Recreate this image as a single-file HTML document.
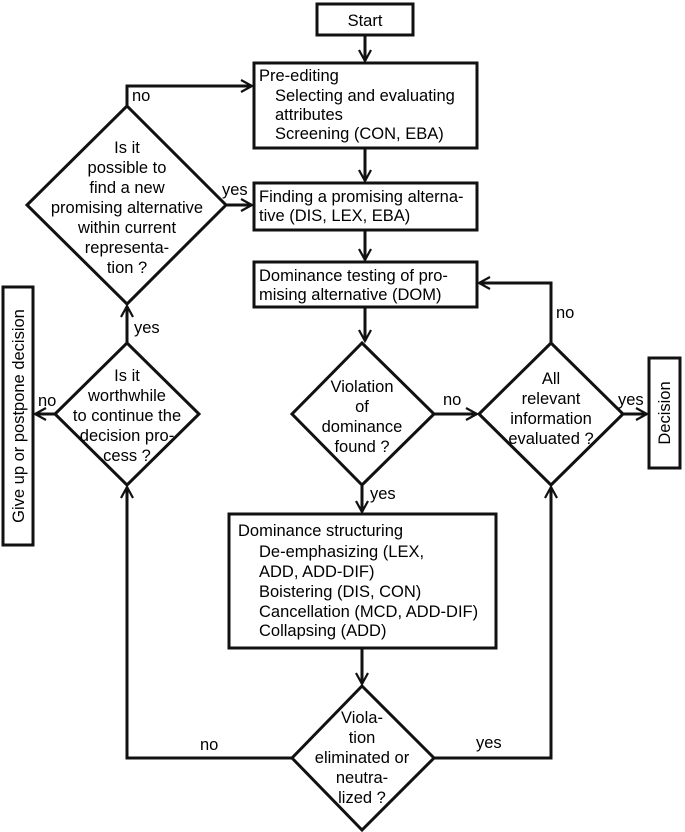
<!DOCTYPE html>
<html><head><meta charset="utf-8"><style>
body{margin:0;background:#fff}
svg{display:block}
text{font-family:"Liberation Sans",Arial,sans-serif;font-size:16.5px;fill:#000}
.c{text-anchor:middle}
</style></head><body>
<svg width="685" height="832" viewBox="0 0 685 832" xmlns="http://www.w3.org/2000/svg">
<defs>
<marker id="a" markerWidth="14" markerHeight="14" refX="12" refY="7" orient="auto" markerUnits="userSpaceOnUse">
<path d="M1,1 L12,7 L1,13" fill="none" stroke="#111" stroke-width="2.2"/>
</marker>
</defs>
<g fill="none" stroke="#111" stroke-width="3">
<rect x="317" y="4" width="96" height="31"/>
<rect x="254" y="63" width="223" height="85"/>
<rect x="254" y="183" width="223" height="47"/>
<rect x="254" y="262" width="223" height="45"/>
<rect x="229" y="514" width="267" height="134"/>
<rect x="3" y="287" width="30" height="258"/>
<rect x="649" y="358" width="31" height="110"/>
<polygon points="127,106 226,205 127,304 27,205"/>
<polygon points="127,343 199,414 127,485 55,414"/>
<polygon points="362,343 434,414 362,485 292,414"/>
<polygon points="551,343 623,414 551,485 479,414"/>
<polygon points="362,686 434,758 362,830 292,758"/>
</g>
<g fill="none" stroke="#111" stroke-width="3" marker-end="url(#a)">
<line x1="365" y1="36" x2="365" y2="61"/>
<line x1="365" y1="149" x2="365" y2="181"/>
<line x1="365" y1="231" x2="365" y2="260"/>
<line x1="365" y1="308" x2="365" y2="341"/>
<line x1="362" y1="486" x2="362" y2="512"/>
<line x1="362" y1="649" x2="362" y2="684"/>
<polyline points="127,106 127,86 252,86"/>
<line x1="226" y1="205" x2="252" y2="205"/>
<line x1="434" y1="414" x2="477" y2="414"/>
<line x1="623" y1="414" x2="647" y2="414"/>
<line x1="55" y1="414" x2="35" y2="414"/>
<line x1="127" y1="343" x2="127" y2="306"/>
<polyline points="551,343 551,283 479,283"/>
<polyline points="292,758 127,758 127,487"/>
<polyline points="434,758 551,758 551,487"/>
</g>
<text class="c" x="365" y="26">Start</text>
<text x="259" y="81">Pre-editing</text>
<text x="275" y="101">Selecting and evaluating</text>
<text x="275" y="120">attributes</text>
<text x="275" y="139">Screening (CON, EBA)</text>
<text x="259" y="202">Finding a promising alterna-</text>
<text x="259" y="221">tive (DIS, LEX, EBA)</text>
<text x="259" y="281">Dominance testing of pro-</text>
<text x="259" y="300">mising alternative (DOM)</text>
<text x="238" y="536">Dominance structuring</text>
<text x="259" y="557">De-emphasizing (LEX,</text>
<text x="259" y="577">ADD, ADD-DIF)</text>
<text x="259" y="597">Boistering (DIS, CON)</text>
<text x="259" y="617">Cancellation (MCD, ADD-DIF)</text>
<text x="259" y="636">Collapsing (ADD)</text>
<text class="c" x="127" y="153">Is it</text>
<text class="c" x="127" y="173">possible to</text>
<text class="c" x="127" y="193">find a new</text>
<text class="c" x="127" y="213">promising alternative</text>
<text class="c" x="127" y="233">within current</text>
<text class="c" x="127" y="253">representa-</text>
<text class="c" x="127" y="273">tion ?</text>
<text class="c" x="127" y="381">Is it</text>
<text class="c" x="127" y="401">worthwhile</text>
<text class="c" x="127" y="421">to continue the</text>
<text class="c" x="127" y="441">decision pro-</text>
<text class="c" x="127" y="461">cess ?</text>
<text class="c" x="362" y="392">Violation</text>
<text class="c" x="362" y="412">of</text>
<text class="c" x="362" y="432">dominance</text>
<text class="c" x="362" y="452">found ?</text>
<text class="c" x="551" y="384">All</text>
<text class="c" x="551" y="404">relevant</text>
<text class="c" x="551" y="424">information</text>
<text class="c" x="551" y="444">evaluated ?</text>
<text class="c" x="362" y="723">Viola-</text>
<text class="c" x="362" y="743">tion</text>
<text class="c" x="362" y="763">eliminated or</text>
<text class="c" x="362" y="783">neutra-</text>
<text class="c" x="362" y="803">lized ?</text>
<text x="132" y="101">no</text>
<text x="222" y="195">yes</text>
<text x="134" y="333">yes</text>
<text x="38" y="406">no</text>
<text x="443" y="405">no</text>
<text x="618" y="405">yes</text>
<text x="556" y="318">no</text>
<text x="370" y="499">yes</text>
<text x="200" y="750">no</text>
<text x="476" y="748">yes</text>
<text class="c" transform="translate(24,416) rotate(-90)">Give up or postpone decision</text>
<text class="c" transform="translate(670,413) rotate(-90)">Decision</text>
</svg>
</body></html>
